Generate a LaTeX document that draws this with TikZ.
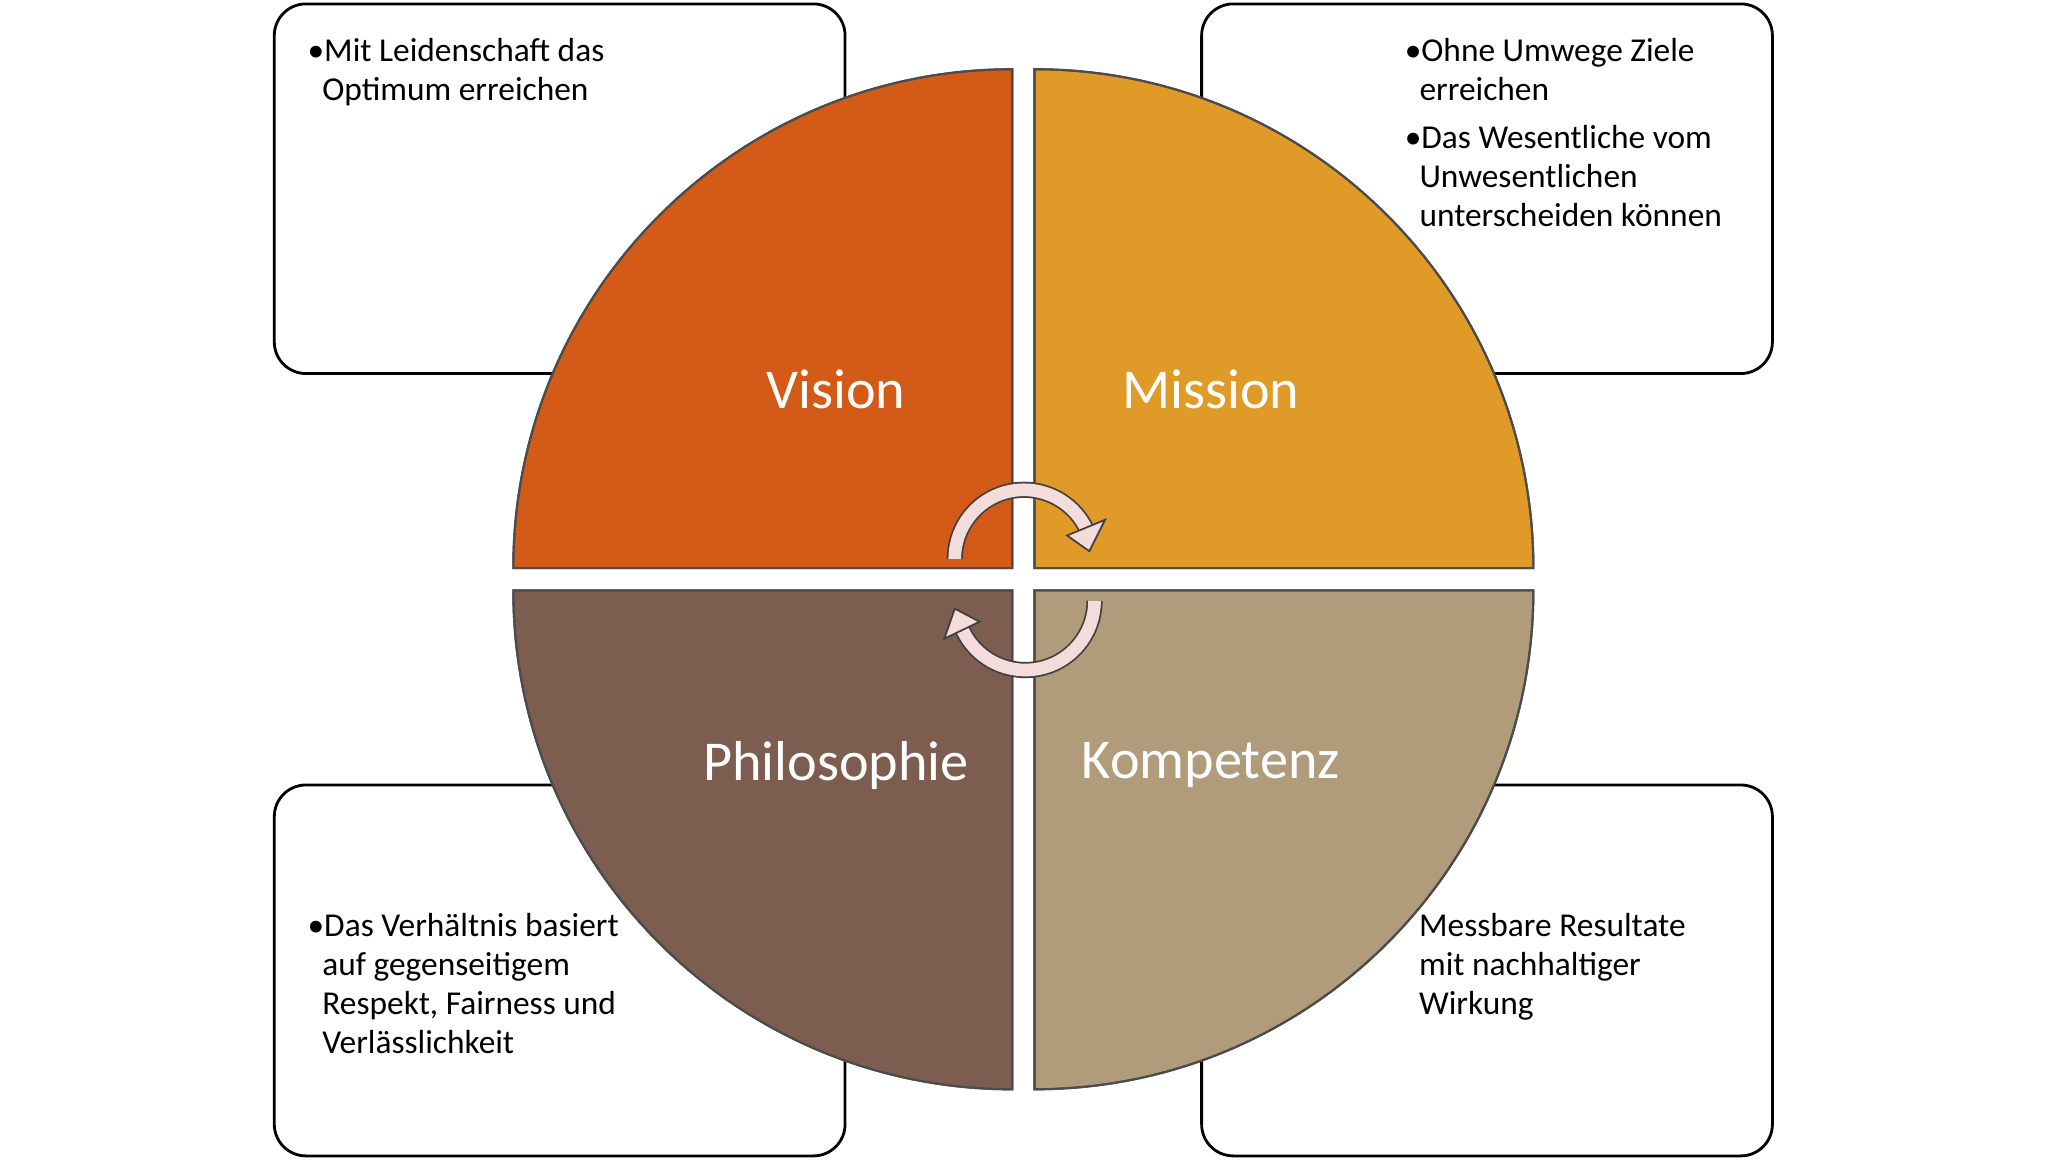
\documentclass[tikz,border=0pt]{standalone}
\usepackage{fontspec}
\setmainfont{Carlito}
\definecolor{visionc}{HTML}{D35A17}
\definecolor{missionc}{HTML}{DF9A27}
\definecolor{philoc}{HTML}{7E5D51}
\definecolor{kompc}{HTML}{B09B7B}
\definecolor{arrowc}{HTML}{F4DCDA}

\begin{document}
\begin{tikzpicture}[x=0.01306cm,y=-0.01306cm]
  \tikzstyle{infobox}=[draw=black, line width=0.8pt, fill=white, rounded corners=9pt]
  \tikzstyle{quarter}=[draw=black!70, line width=0.6pt]
  \tikzstyle{title}=[text=white, font=\fontsize{16}{19}\selectfont]
  \tikzstyle{info}=[anchor=north west, align=left, font=\fontsize{9.5}{11.1}\selectfont]
  \tikzstyle{turn}=[draw=black!75, line width=0.5pt, double=arrowc, double distance=3.6pt]
  \useasboundingbox (0,0) rectangle (1568,888);

  % boxes
  \draw[infobox] (210,3) rectangle (647,286);
  \draw[infobox] (920,3) rectangle (1357,286);
  \draw[infobox] (210,601) rectangle (647,885);
  \draw[infobox] (920,601) rectangle (1357,885);

  % quarters
  \fill[quarter, fill=visionc] (775,435) -- (393,435) arc[start angle=180, end angle=270, radius=382] -- cycle;
  \fill[quarter, fill=missionc] (792,435) -- (792,53) arc[start angle=270, end angle=360, radius=382] -- cycle;
  \fill[quarter, fill=kompc] (792,452) -- (1174,452) arc[start angle=0, end angle=90, radius=382] -- cycle;
  \fill[quarter, fill=philoc] (775,452) -- (775,834) arc[start angle=90, end angle=180, radius=382] -- cycle;
  \draw[quarter] (775,435) -- (393,435) arc[start angle=180, end angle=270, radius=382] -- cycle;
  \draw[quarter] (792,435) -- (792,53) arc[start angle=270, end angle=360, radius=382] -- cycle;
  \draw[quarter] (792,452) -- (1174,452) arc[start angle=0, end angle=90, radius=382] -- cycle;
  \draw[quarter] (775,452) -- (775,834) arc[start angle=90, end angle=180, radius=382] -- cycle;

  % titles
  \node[title] (vision) at (640,298) {Vision};
  \node[title] (mission) at (927,298) {Mission};
  \node[title] (philo) at (640,586) {Philosophie};
  \node[title] (komp) at (927,586) {Kompetenz};

  % turning arrows
  \draw[turn] (731,428) arc[start angle=180, end angle=335, radius=53];
  \filldraw[draw=black!75, fill=arrowc, line width=0.5pt] (846,398) -- (834,422) -- (817,410) -- cycle;
  \draw[turn] (838,460) arc[start angle=0, end angle=155, radius=53];
  \filldraw[draw=black!75, fill=arrowc, line width=0.5pt] (723,489) -- (731,466) -- (750,476) -- cycle;

  % texts
  \node[info] (tl) at (226,20) {\textbullet Mit Leidenschaft das\\\hspace{4.2pt}Optimum erreichen};
  \node[info] (tr) at (1066,20) {\textbullet Ohne Umwege Ziele\\\hspace{4.2pt}erreichen\\[2.6pt]\textbullet Das Wesentliche vom\\\hspace{4.2pt}Unwesentlichen\\\hspace{4.2pt}unterscheiden können};
  \node[info] (bl) at (226,690) {\textbullet Das Verhältnis basiert\\\hspace{4.2pt}auf gegenseitigem\\\hspace{4.2pt}Respekt, Fairness und\\\hspace{4.2pt}Verlässlichkeit};
  \node[info] (br) at (1077,690) {Messbare Resultate\\mit nachhaltiger\\Wirkung};
\end{tikzpicture}
\end{document}
